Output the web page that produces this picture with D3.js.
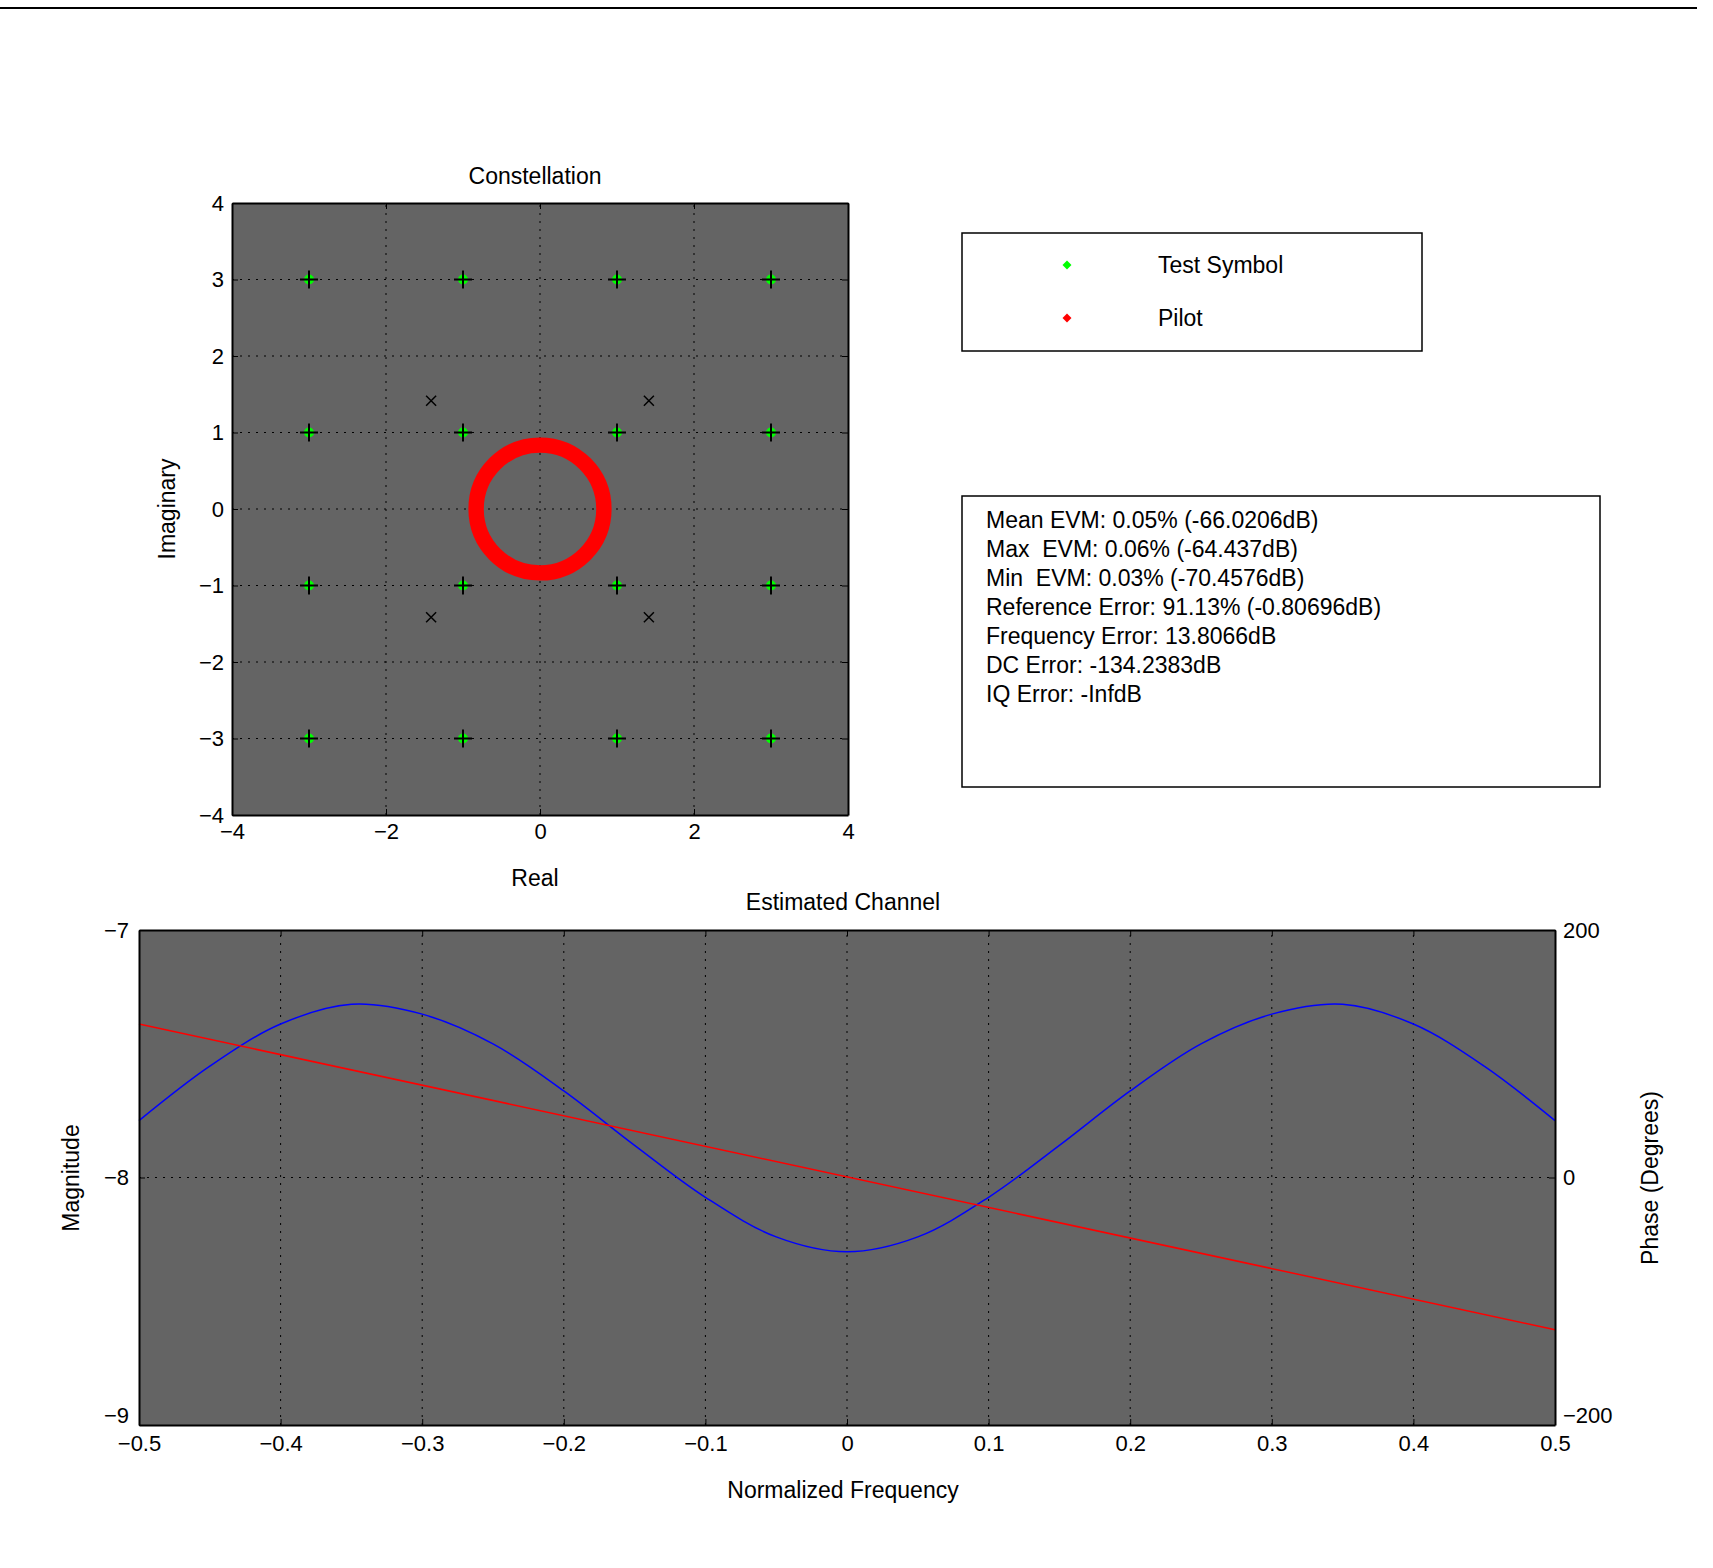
<!DOCTYPE html>
<html><head><meta charset="utf-8">
<script src="https://cdn.jsdelivr.net/npm/d3@7"></script>
<style>body{margin:0;background:#fff}text{font-family:"Liberation Sans","DejaVu Sans",sans-serif;fill:#000}</style>
</head><body><div id="chartbox"></div>
<script>
// constellation data
var symbolLevels = [-3, -1, 1, 3];
var refPoints = [[-1.414, 1.414], [1.414, 1.414], [-1.414, -1.414], [1.414, -1.414]];
var pilotRadius = [0.83];
var constTicks = [-4, -2, 0, 2, 4];
var constYTicks = [-4, -3, -2, -1, 0, 1, 2, 3, 4];
// estimated channel
var freq = [-0.5,-0.45,-0.4,-0.35,-0.3,-0.25,-0.2,-0.15,-0.1,-0.05,0,0.05,0.1,0.15,0.2,0.25,0.3,0.35,0.4,0.45,0.5];
var magnitude = [-7.77,-7.55,-7.38,-7.30,-7.34,-7.46,-7.65,-7.87,-8.08,-8.24,-8.30,-8.24,-8.08,-7.87,-7.65,-7.46,-7.34,-7.30,-7.38,-7.55,-7.77];
var phaseEnds = [[-0.5, 124], [0.5, -123]];
var freqTicks = [-0.5,-0.4,-0.3,-0.2,-0.1,0,0.1,0.2,0.3,0.4,0.5];
var legendItems = [["Test Symbol", "#00ff00"], ["Pilot", "#ff0000"]];
var stats = ["Mean EVM: 0.05% (-66.0206dB)", "Max  EVM: 0.06% (-64.437dB)", "Min  EVM: 0.03% (-70.4576dB)",
  "Reference Error: 91.13% (-0.80696dB)", "Frequency Error: 13.8066dB", "DC Error: -134.2383dB", "IQ Error: -InfdB"];

const width = 1713, height = 1568;
var svg = d3.select('#chartbox').append('svg').attr('width', width).attr('height', height);
svg.append('line').attr('x1', 0).attr('x2', 1697).attr('y1', 8).attr('y2', 8).attr('stroke', '#000').attr('stroke-width', 2);

function frame(g, x, y, xt, yt) {
  var r = x.range(), b = y.range();
  g.append('rect').attr('x', r[0]).attr('y', b[1]).attr('width', r[1]-r[0]).attr('height', b[0]-b[1]).attr('fill', '#646464');
  xt.forEach(function(t){ g.append('line').attr('x1', x(t)).attr('x2', x(t)).attr('y1', b[0]).attr('y2', b[1]).attr('stroke', '#000').attr('stroke-dasharray', '2,6'); });
  yt.forEach(function(t){ g.append('line').attr('y1', y(t)).attr('y2', y(t)).attr('x1', r[0]).attr('x2', r[1]).attr('stroke', '#000').attr('stroke-dasharray', '2,6'); });
}
function fontSet(s){ return s.attr('font-size', 23); }
function styleAx(a){ a.selectAll('text').attr('font-size', 22).attr('font-family', null); a.select('.domain').attr('stroke-width', 2); }

// Constellation
var cx = d3.scaleLinear().domain([-4, 4]).range([232, 848]);
var cy = d3.scaleLinear().domain([-4, 4]).range([815, 203]);
var g1 = svg.append('g');
frame(g1, cx, cy, [-2, 0, 2], [-3, -2, -1, 0, 1, 2, 3]);
g1.append('circle').attr('cx', cx(0)).attr('cy', cy(0)).attr('r', cx(pilotRadius[0]) - cx(0))
  .attr('fill', 'none').attr('stroke', '#ff0000').attr('stroke-width', cx(0.2) - cx(0));
symbolLevels.forEach(function(i){ symbolLevels.forEach(function(q){
  g1.append('circle').attr('cx', cx(i)).attr('cy', cy(q)).attr('r', 5).attr('fill', '#00ff00');
  g1.append('path').attr('d', 'M'+(cx(i)-9)+','+cy(q)+'h18M'+cx(i)+','+(cy(q)-9)+'v18').attr('stroke', '#000').attr('stroke-width', 2);
});});
refPoints.forEach(function(p){
  g1.append('path').attr('d', 'M'+(cx(p[0])-5)+','+(cy(p[1])-5)+'l10,10M'+(cx(p[0])+5)+','+(cy(p[1])-5)+'l-10,10').attr('stroke', '#000').attr('stroke-width', 1.5);
});
g1.append('g').attr('transform', 'translate(0,815)').call(d3.axisBottom(cx).tickValues(constTicks).tickSizeInner(-6).tickSizeOuter(0).tickPadding(8)).call(styleAx);
g1.append('g').attr('transform', 'translate(232,0)').call(d3.axisLeft(cy).tickValues(constYTicks).tickSizeInner(-6).tickSizeOuter(0).tickPadding(8)).call(styleAx);
g1.append('g').attr('transform', 'translate(0,203)').call(d3.axisTop(cx).tickValues(constTicks).tickSizeInner(-6).tickSizeOuter(0).tickFormat('')).call(styleAx);
g1.append('g').attr('transform', 'translate(848,0)').call(d3.axisRight(cy).tickValues(constYTicks).tickSizeInner(-6).tickSizeOuter(0).tickFormat('')).call(styleAx);
fontSet(g1.append('text').attr('x', 535).attr('y', 184).attr('text-anchor', 'middle').text('Constellation'));
fontSet(g1.append('text').attr('x', 535).attr('y', 886).attr('text-anchor', 'middle').text('Real'));
fontSet(g1.append('text').attr('transform', 'translate(175,509) rotate(-90)').attr('text-anchor', 'middle').text('Imaginary'));

// Legend
svg.append('rect').attr('x', 962).attr('y', 233).attr('width', 460).attr('height', 118).attr('fill', '#fff').attr('stroke', '#000').attr('stroke-width', 1.5);
legendItems.forEach(function(d, i){
  var yy = 265 + i*53;
  svg.append('path').attr('d', d3.symbol(d3.symbolSquare, 40)()).attr('transform', 'translate(1067,'+yy+') rotate(45)').attr('fill', d[1]);
  fontSet(svg.append('text').attr('x', 1158).attr('y', yy+8).text(d[0]));
});
// Stats box
svg.append('rect').attr('x', 962).attr('y', 496).attr('width', 638).attr('height', 291).attr('fill', '#fff').attr('stroke', '#000').attr('stroke-width', 1.5);
stats.forEach(function(s, i){
  fontSet(svg.append('text').attr('x', 986).attr('y', 528 + i*29).style('white-space', 'pre').text(s));
});

// Estimated channel
var fx = d3.scaleLinear().domain([-0.5, 0.5]).range([139, 1555]);
var my = d3.scaleLinear().domain([-9, -7]).range([1425, 930]);
var py = d3.scaleLinear().domain([-200, 200]).range([1425, 930]);
var g2 = svg.append('g');
frame(g2, fx, my, freqTicks.slice(1, -1), [-8]);
g2.append('path').datum(freq.map(function(f, i){ return [f, magnitude[i]]; }))
  .attr('d', d3.line().x(function(d){ return fx(d[0]); }).y(function(d){ return my(d[1]); }).curve(d3.curveCatmullRom))
  .attr('fill', 'none').attr('stroke', '#0000ff').attr('stroke-width', 1.5);
g2.append('path').datum(phaseEnds)
  .attr('d', d3.line().x(function(d){ return fx(d[0]); }).y(function(d){ return py(d[1]); }))
  .attr('fill', 'none').attr('stroke', '#ff0000').attr('stroke-width', 1.5);
g2.append('g').attr('transform', 'translate(0,1425)').call(d3.axisBottom(fx).tickValues(freqTicks).tickFormat(d3.format('')).tickSizeInner(-6).tickSizeOuter(0).tickPadding(10)).call(styleAx);
g2.append('g').attr('transform', 'translate(0,930)').call(d3.axisTop(fx).tickValues(freqTicks).tickSizeInner(-6).tickSizeOuter(0).tickFormat('')).call(styleAx);
var ml = g2.append('g').attr('transform', 'translate(139,0)').call(d3.axisLeft(my).tickValues([-9, -8, -7]).tickFormat(d3.format('d')).tickSizeInner(-6).tickSizeOuter(0).tickPadding(10)).call(styleAx);
ml.selectAll('.tick text').filter(function(d){ return d === -9; }).attr('dy', '-0.1em');
var pr = g2.append('g').attr('transform', 'translate(1555,0)').call(d3.axisRight(py).tickValues([-200, 0, 200]).tickSizeInner(-6).tickSizeOuter(0).tickPadding(8)).call(styleAx);
pr.selectAll('.tick text').filter(function(d){ return d === -200; }).attr('dy', '-0.1em');
fontSet(g2.append('text').attr('x', 843).attr('y', 910).attr('text-anchor', 'middle').text('Estimated Channel'));
fontSet(g2.append('text').attr('x', 843).attr('y', 1498).attr('text-anchor', 'middle').text('Normalized Frequency'));
fontSet(g2.append('text').attr('transform', 'translate(79,1178) rotate(-90)').attr('text-anchor', 'middle').text('Magnitude'));
fontSet(g2.append('text').attr('transform', 'translate(1658,1178) rotate(-90)').attr('text-anchor', 'middle').text('Phase (Degrees)'));
</script></body></html>
